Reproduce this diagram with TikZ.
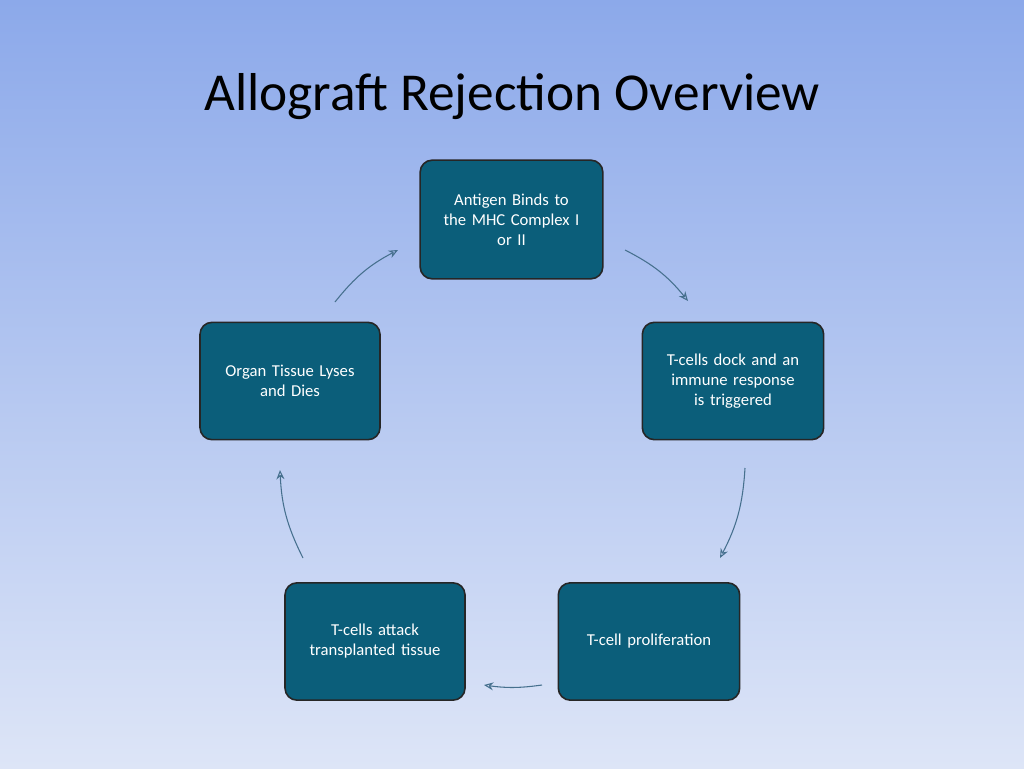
\documentclass[tikz,border=0pt]{standalone}
\usepackage{fontspec}
\setmainfont{Carlito}
\usetikzlibrary{arrows.meta}
\definecolor{boxfill}{HTML}{0B5E7A}
\definecolor{bgtop}{HTML}{8CA9EA}
\definecolor{bgbot}{HTML}{DDE5F7}
\definecolor{arr}{HTML}{46708E}
\tikzset{
 stepbox/.style={draw=black!85,line width=1.2pt,fill=boxfill,rounded corners=9pt,text=white,align=center,font=\fontsize{12.5}{15}\selectfont,inner sep=0pt},
 cyc/.style={draw=arr,line width=0.8pt,-{Stealth[length=7pt,width=6pt,open]}}
}
\begin{document}
\begin{tikzpicture}[x=0.75pt,y=-0.75pt]
\shade[top color=bgtop,bottom color=bgbot] (0,0) rectangle (1024,768);
\useasboundingbox (0,0) rectangle (1024,768);
\node[font=\fontsize{40}{48}\selectfont] (title) at (512,97) {Allograft Rejection Overview};
\node[stepbox,minimum width=137pt,minimum height=89pt,text width=120pt] (a) at (511.5,219.5) {Antigen Binds to\\the MHC Complex I\\or II\\[22pt]};
\node[stepbox,minimum width=136pt,minimum height=88pt,text width=120pt] (b) at (733,381) {T-cells dock and an\\immune response\\is triggered\\[8pt]};
\node[stepbox,minimum width=136pt,minimum height=88pt,text width=120pt] (c) at (649,641.5) {T-cell proliferation};
\node[stepbox,minimum width=135pt,minimum height=88pt,text width=120pt] (d) at (375,641.5) {T-cells attack\\transplanted tissue\\[8pt]};
\node[stepbox,minimum width=135pt,minimum height=88pt,text width=120pt] (e) at (290,381) {Organ Tissue Lyses\\and Dies\\[8pt]};
\coordinate (a1) at (625,250); \coordinate (a2) at (688,301);
\coordinate (b1) at (745,468); \coordinate (b2) at (720,558);
\coordinate (c1) at (542,685); \coordinate (c2) at (484,685);
\coordinate (d1) at (303,558); \coordinate (d2) at (280,470);
\coordinate (e1) at (335,302); \coordinate (e2) at (398,250);
\draw[cyc] (a1) to[bend left=12] (a2);
\draw[cyc] (b1) to[bend left=12] (b2);
\draw[cyc] (c1) to[bend left=8] (c2);
\draw[cyc] (d1) to[bend left=12] (d2);
\draw[cyc] (e1) to[bend left=12] (e2);
\end{tikzpicture}
\end{document}
